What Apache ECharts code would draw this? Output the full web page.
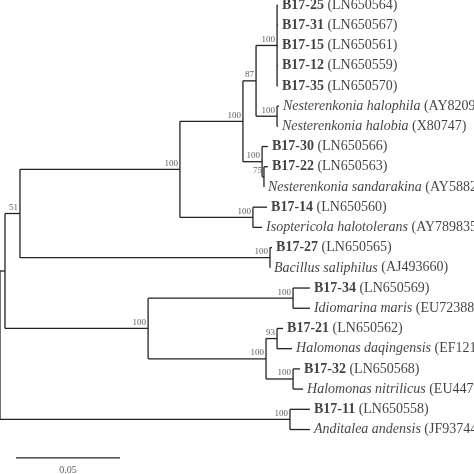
<!DOCTYPE html>
<html>
<head>
<meta charset="UTF-8">
<script src="https://cdn.jsdelivr.net/npm/echarts@6/dist/echarts.min.js"></script>
<style>html,body{margin:0;background:#fff}#main{width:474px;height:474px}</style>
</head>
<body>
<div id="main"></div>
<script>
// leaves, top to bottom
var leafNames = ['B17-25','B17-31','B17-15','B17-12','B17-35','Nesterenkonia halophila','Nesterenkonia halobia',
  'B17-30','B17-22','Nesterenkonia sandarakina','B17-14','Isoptericola halotolerans','B17-27','Bacillus saliphilus',
  'B17-34','Idiomarina maris','B17-21','Halomonas daqingensis','B17-32','Halomonas nitrilicus','B17-11','Anditalea andensis'];
var leafAcc = ['LN650564','LN650567','LN650561','LN650559','LN650570','AY820953','X80747',
  'LN650566','LN650563','AY588278','LN650560','AY789835','LN650565','AJ493660',
  'LN650569','EU723888','LN650562','EF121853','LN650568','EU447907','LN650558','JF937440'];
var leafDist = [0.1336,0.1336,0.1336,0.1336,0.1336,0.1341,0.1336,0.1288,0.1288,0.1269,0.1284,0.126,0.1308,0.1298,
  0.149,0.149,0.1361,0.1404,0.1442,0.1457,0.149,0.149];
var leafParent = ['f','f','f','f','f','g','g','e','n75','n75','iso','iso','bac','bac','h','h','n93','n93','j','j','and','and'];
// internal nodes: id, parent, distance, support
var nodeIds     = ['root','A','n51','c','d','n87','f','g','e','n75','iso','bac','b','h','i','n93','j','and'];
var nodeParent  = [null,'root','A','n51','c','d','n87','n87','d','e','c','n51','A','b','b','i','i','root'];
var nodeDist    = [0,0.0024,0.0096,0.0865,0.1168,0.1231,0.1332,0.1332,0.126,0.1269,0.1216,0.1298,0.0712,0.1409,0.1279,0.1332,0.1409,0.1394];
var nodeSupport = [null,null,51,100,100,87,100,100,100,75,100,100,100,100,100,93,100,100];
var scaleLen = 0.05;

// gather children and compute y
var kids = {}, nodes = {};
nodeIds.forEach(function(id,k){ nodes[id] = {x:nodeDist[k], s:nodeSupport[k]}; kids[id] = []; });
leafNames.forEach(function(n,i){ kids[leafParent[i]].push({x:leafDist[i], y:i}); });
function yOf(id){
  var n = nodes[id];
  if (n.y !== undefined) return n.y;
  nodeIds.forEach(function(c,k){ if (nodeParent[k] === id) kids[id].push({id:c}); });
  var ys = kids[id].map(function(ch){ if (ch.id) { ch.x = nodes[ch.id].x; ch.y = yOf(ch.id); } return ch.y; });
  n.ymin = Math.min.apply(null, ys); n.ymax = Math.max.apply(null, ys);
  n.y = (n.ymin + n.ymax) / 2;
  return n.y;
}
yOf('root');

var segs = [], supports = [];
nodeIds.forEach(function(id){
  var n = nodes[id];
  segs.push({coords:[[n.x,n.ymin],[n.x,n.ymax]]});
  kids[id].forEach(function(ch){ segs.push({coords:[[n.x,ch.y],[ch.x,ch.y]]}); });
  if (n.s !== null) supports.push({value:[n.x,n.y], name:String(n.s)});
});
segs.push({coords:[[0.0077,22.4],[0.0077+scaleLen,22.4]]});

var leafLabels = leafNames.map(function(n,i){
  var bold = /^B17/.test(n);
  return {value:[leafDist[i], i], label:{formatter: (bold ? '{b|'+n+'}' : '{i|'+n+'}') + '{n| ('+leafAcc[i]+')}'}};
});

var chart = echarts.init(document.getElementById('main'));
chart.setOption({
  animation:false,
  grid:{left:0,right:0,top:0,bottom:0},
  xAxis:{type:'value',min:0,max:474/2080,show:false},
  yAxis:{type:'value',inverse:true,min:-0.25,max:23.2,show:false},
  series:[
    {type:'lines',coordinateSystem:'cartesian2d',polyline:true,data:segs,
     lineStyle:{color:'#222',width:1.3,opacity:1},silent:true},
    {type:'scatter',data:leafLabels,symbolSize:0,
     label:{show:true,position:'right',distance:4,
       rich:{b:{fontFamily:'Liberation Serif',fontSize:14,fontWeight:'bold',color:'#111'},
             i:{fontFamily:'Liberation Serif',fontSize:14,fontStyle:'italic',color:'#111'},
             n:{fontFamily:'Liberation Serif',fontSize:14,color:'#111'}}}},
    {type:'scatter',data:supports,symbolSize:0,
     label:{show:true,position:'left',distance:2,offset:[0,-6],formatter:'{b}',
       fontFamily:'Liberation Serif',fontSize:9,color:'#333'}},
    {type:'scatter',data:[{value:[0.0077+scaleLen/2,23.0],name:'0.05'}],symbolSize:0,
     label:{show:true,position:'inside',formatter:'{b}',fontFamily:'Liberation Serif',fontSize:10,color:'#333'}}
  ]
});
</script>
</body>
</html>
